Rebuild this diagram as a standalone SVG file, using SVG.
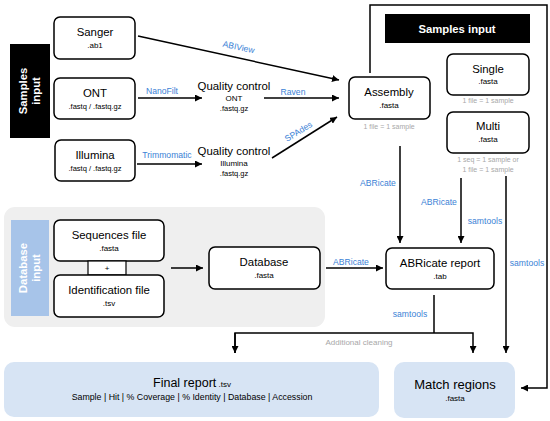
<svg xmlns="http://www.w3.org/2000/svg" width="550" height="421" viewBox="0 0 550 421">
<defs>
<marker id="ah" viewBox="0 0 10 10" refX="10" refY="5" markerWidth="7" markerHeight="7" markerUnits="userSpaceOnUse" orient="auto"><path d="M0,0 L10,5 L0,10 Z" fill="#000"/></marker>
<style>
text{font-family:"Liberation Sans",Arial,sans-serif;text-anchor:middle}
.box{fill:#fff;stroke:#000;stroke-width:1.5}
.t{font-size:11.4px;fill:#000}
.s{font-size:8px;fill:#000}
.s2{font-size:7.5px;fill:#000}
.b{font-size:8.6px;fill:#3b82d6}
.g{font-size:7px;fill:#a8a8a8}
.wb{font-weight:bold;fill:#fff;font-size:11.3px}
.ln{fill:none;stroke:#000;stroke-width:1.5}
.arr{fill:none;stroke:#000;stroke-width:1.5;marker-end:url(#ah)}
</style>
</defs>
<rect x="4" y="207" width="321" height="120" rx="11" fill="#efefef"/>
<rect x="4" y="362" width="375" height="55" rx="10" fill="#d7e4f4"/>
<rect x="394" y="362" width="121" height="56" rx="10" fill="#d7e4f4"/>
<g id="samples-input-left"><rect x="10" y="44" width="40" height="94" fill="#000"/><text class="wb" transform="translate(30,91) rotate(-90)"><tspan x="0" y="-3">Samples</tspan><tspan x="0" y="10">input</tspan></text></g>
<g id="sanger"><rect class="box" x="54" y="17" width="81" height="42" rx="6"/><text class="t" x="95" y="36">Sanger</text><text class="s" x="95" y="48">.ab1</text></g>
<g id="ont"><rect class="box" x="54" y="78" width="81" height="41" rx="6"/><text class="t" x="95" y="97">ONT</text><text class="s2" x="95" y="109">.fastq / .fastq.gz</text></g>
<g id="illumina"><rect class="box" x="55" y="140" width="80" height="41" rx="6"/><text class="t" x="95" y="159">Illumina</text><text class="s2" x="95" y="171">.fastq / .fastq.gz</text></g>
<g id="qc-ont"><text class="t" x="234" y="90">Quality control</text><text class="s" x="234" y="101">ONT</text><text class="s2" x="234" y="111">.fastq.gz</text></g>
<g id="qc-illumina"><text class="t" x="234" y="155">Quality control</text><text class="s" x="234" y="166">Illumina</text><text class="s2" x="234" y="176">.fastq.gz</text></g>
<g id="assembly"><rect class="box" x="349" y="77" width="81" height="42" rx="6"/><text class="t" x="389" y="96">Assembly</text><text class="s" x="389" y="108">.fasta</text><text class="g" x="389" y="129">1 file = 1 sample</text></g>
<g id="samples-input-right"><rect x="385" y="14" width="145" height="29" fill="#000"/><text class="wb" x="457" y="33">Samples input</text></g>
<g id="single"><rect class="box" x="447" y="54" width="82" height="41" rx="6"/><text class="t" x="488" y="73">Single</text><text class="s" x="488" y="84">.fasta</text><text class="g" x="488" y="103">1 file = 1 sample</text></g>
<g id="multi"><rect class="box" x="447" y="112" width="82" height="41" rx="6"/><text class="t" x="488" y="130">Multi</text><text class="s" x="488" y="142">.fasta</text><text class="g" x="488" y="162">1 seq = 1 sample or</text><text class="g" x="488" y="172">1 file = 1 sample</text></g>
<g id="database-input"><rect x="11" y="220" width="38" height="96" fill="#a7c4e9"/><text class="wb" transform="translate(30,268) rotate(-90)"><tspan x="0" y="-3">Database</tspan><tspan x="0" y="10">input</tspan></text></g>
<g id="sequences-file"><rect class="box" x="54" y="220" width="110" height="41" rx="6"/><text class="t" x="109" y="239">Sequences file</text><text class="s" x="109" y="251">.fasta</text></g>
<g id="plus"><rect x="88" y="261" width="38" height="14" fill="#fff" stroke="#000" stroke-width="1.2"/><text class="s" x="107" y="271">+</text></g>
<g id="identification-file"><rect class="box" x="54" y="275" width="110" height="42" rx="6"/><text class="t" x="109" y="294">Identification file</text><text class="s" x="109" y="306">.tsv</text></g>
<g id="database"><rect class="box" x="209" y="247" width="111" height="42" rx="6"/><text class="t" x="264" y="266">Database</text><text class="s" x="264" y="278">.fasta</text></g>
<g id="abricate-report"><rect class="box" x="386" y="248" width="108" height="41" rx="6"/><text class="t" x="440" y="267">ABRicate report</text><text class="s" x="440" y="279">.tab</text></g>
<g id="final-report"><text x="192" y="387" style="font-size:12.5px"><tspan>Final report</tspan><tspan style="font-size:8px"> .tsv</tspan></text><text x="192" y="400" style="font-size:8.8px">Sample | Hit | % Coverage | % Identity | Database | Accession</text></g>
<g id="match-regions"><text x="455" y="389" style="font-size:13px">Match regions</text><text class="s" x="455" y="401">.fasta</text></g>
<g id="connectors">
<line class="arr" x1="138" y1="36" x2="339" y2="80"/>
<line class="arr" x1="138" y1="98" x2="202" y2="98"/>
<line class="arr" x1="137" y1="164" x2="202" y2="164"/>
<line class="arr" x1="264" y1="98" x2="339" y2="98"/>
<line class="arr" x1="272" y1="158" x2="337" y2="117"/>
<polyline class="arr" points="370,73 370,5 547,5 547,388 521,388"/>
<line class="arr" x1="400" y1="146" x2="400" y2="243"/>
<line class="arr" x1="461" y1="178" x2="461" y2="243"/>
<line class="arr" x1="506" y1="176" x2="506" y2="353"/>
<line class="arr" x1="171" y1="268" x2="203" y2="268"/>
<line class="arr" x1="326" y1="268" x2="383" y2="268"/>
<line class="ln" x1="434" y1="295" x2="434" y2="333"/>
<polyline class="arr" points="235,353 235,333 473,333 473,353"/>
<line class="arr" x1="235" y1="333" x2="235" y2="353"/>
<text class="b" transform="translate(238,50) rotate(12.3)">ABIView</text>
<text class="b" x="162" y="94">NanoFilt</text>
<text class="b" x="167" y="158">Trimmomatic</text>
<text class="b" x="293" y="95">Raven</text>
<text class="b" transform="translate(300,134) rotate(-32)">SPAdes</text>
<text class="b" x="378" y="186">ABRicate</text>
<text class="b" x="439" y="205">ABRicate</text>
<text class="b" x="485" y="224">samtools</text>
<text class="b" x="527" y="266">samtools</text>
<text class="b" x="351" y="265">ABRicate</text>
<text class="b" x="410" y="317">samtools</text>
<text class="g" x="359" y="345" style="font-size:8px">Additional cleaning</text>
</g>
</svg>
